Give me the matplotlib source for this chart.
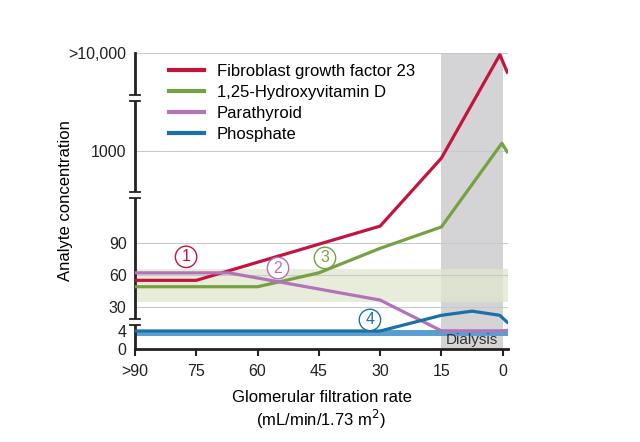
import numpy as np
import matplotlib
matplotlib.use("Agg")
import matplotlib.pyplot as plt

plt.rcParams['font.family'] = ['Liberation Sans', 'DejaVu Sans']

# GFR (mL/min/1.73 m2); 90 stands for ">90"
gfr_ticks = [90, 75, 60, 45, 30, 15, 0]
gfr_labels = ['>90', '75', '60', '45', '30', '15', '0']

conc_ticks = [0, 4, 30, 60, 90, 1000, 10000]
conc_labels = ['0', '4', '30', '60', '90', '1000', '>10,000']

# series (schematic values)
fgf_x = [90, 75, 30, 15, 0.7, -1.1]
fgf_y = [55, 55, 140, 830, 9600, 6400]

vitd_x = [90, 60, 45, 30, 15, 0.2, -1.1]
vitd_y = [49, 49, 62, 85, 137, 1200, 980]

pth_x = [90, 67, 30, 15, 0.7, -1.1]
pth_y = [62, 62, 36.5, 4.2, 4.2, 4.6]

phos_x = [90, 30, 15, 7.5, 0.7, -1.1]
phos_y = [4, 4, 21, 25.5, 21, 13.5]

# normal ranges
pth_band = (35, 66)
phos_band = (2.9, 4.9)
dialysis = (0, 15)

# broken-axis scale: linear below 90, log above
pos = np.array([0, 18, 42, 74, 106, 198, 296], dtype=float)
vals = np.array(conc_ticks, dtype=float)


def g(v):
    v = np.asarray(v, dtype=float)
    return np.where(v > 90, 90 + 100 * np.log10(np.maximum(v, 90) / 90), v)


def g_inv(t):
    t = np.asarray(t, dtype=float)
    return np.where(t > 90, 90 * 10 ** ((np.maximum(t, 90) - 90) / 100), t)


gv = g(vals)


def forward(v):
    return np.interp(g(v), gv, pos)


def inverse(p):
    return g_inv(np.interp(p, pos, gv))


W, H = 640, 442
fig = plt.figure(figsize=(W / 100, H / 100), dpi=100)
ax = fig.add_axes([135 / W, 93 / H, 373 / W, 296 / H])
ax.set_yscale('function', functions=(forward, inverse))
ax.set_xlim(90, -1.3)
ax.set_ylim(0, 10000)

ax.axvspan(*dialysis, color='#d4d4d6', zorder=0, lw=0)
ax.fill_between([90, -1.3], *pth_band, color='#dfe6cf', alpha=0.75, zorder=0.5, lw=0)
for t in [30, 60, 90, 1000, 10000]:
    ax.axhline(t, color='#c9c9c9', lw=0.8, zorder=0.8)
ax.fill_between([90, -1.3], *phos_band, color='#5a9fd0', zorder=1, lw=0)

red, green, purple, blue = '#c2143f', '#76a142', '#b373b8', '#1b70a8'
ax.plot(fgf_x, fgf_y, color=red, lw=2.3, label='Fibroblast growth factor 23', zorder=3)
ax.plot(vitd_x, vitd_y, color=green, lw=2.3, label='1,25-Hydroxyvitamin D', zorder=3)
ax.plot(pth_x, pth_y, color=purple, lw=2.3, label='Parathyroid', zorder=3)
ax.plot(phos_x, phos_y, color=blue, lw=2.3, label='Phosphate', zorder=3)

for n, (x, y, c) in enumerate([(77.5, 77, red), (55, 66.5, purple),
                                (43.5, 76, green), (32.5, 16, blue)], start=1):
    ax.text(x, y, str(n), color=c, fontsize=11.5, ha='center', va='center', zorder=4,
            bbox=dict(boxstyle='circle,pad=0.2', fc='white', ec=c, lw=1))

ax.text(7.5, 2, 'Dialysis', fontsize=11, color='#333333', ha='center', va='center', zorder=4)

ax.set_xticks(gfr_ticks)
ax.set_xticklabels(gfr_labels)
ax.set_yticks(conc_ticks)
ax.set_yticklabels(conc_labels)
ax.tick_params(axis='both', labelsize=11.5, colors='#222222', width=1.5, length=5, direction='out')
ax.tick_params(axis='x', pad=6)
ax.tick_params(axis='y', length=0, pad=6)

for s in ['top', 'right']:
    ax.spines[s].set_visible(False)
for s in ['left', 'bottom']:
    ax.spines[s].set_linewidth(2)
    ax.spines[s].set_color('#222222')

# axis break marks
for b in [13.5, 315, 3500]:
    f = (forward(b) - forward(0)) / (forward(10000) - forward(0))
    gap = 3 / 296
    ax.plot([0, 0], [f - gap, f + gap], color='white', lw=3, transform=ax.transAxes,
            clip_on=False, zorder=5, solid_capstyle='butt')
    for yy in (f - gap, f + gap):
        ax.plot([-0.014, 0.014], [yy, yy], color='#222222', lw=1.3, transform=ax.transAxes,
                clip_on=False, zorder=6)

ax.set_ylabel('Analyte concentration', fontsize=12)
ax.yaxis.set_label_coords(-0.166, 0.5)
ax.set_xlabel('Glomerular filtration rate\n(mL/min/1.73 m$^2$)', fontsize=12, labelpad=8,
              linespacing=1.15)

leg = ax.legend(loc='upper left', bbox_to_anchor=(0.05, 1.015), frameon=False, fontsize=12,
                handlelength=2.1, handletextpad=0.8, labelspacing=0.36)
for h in leg.get_lines():
    h.set_linewidth(3)

fig.savefig('out.png', dpi=100)
